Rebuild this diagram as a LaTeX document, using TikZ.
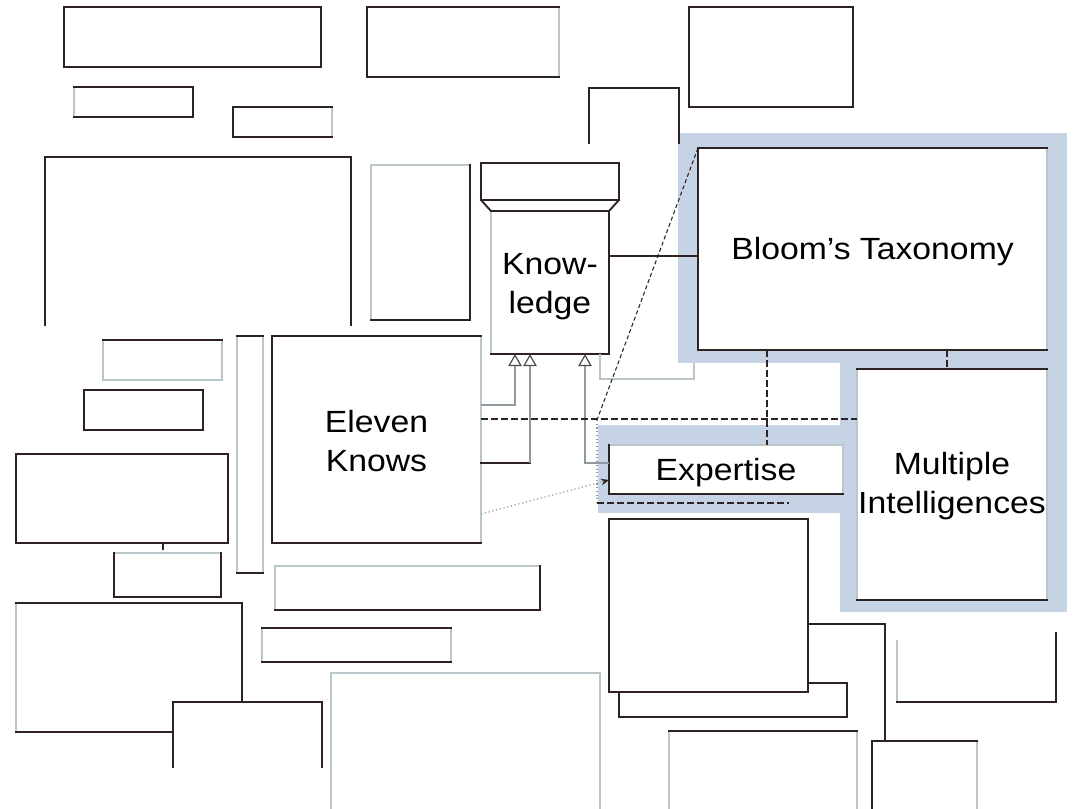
\documentclass[tikz,border=0pt]{standalone}
\usepackage{fontspec}
\newfontfamily\lblfont[FakeStretch=1.1]{Liberation Sans}
\usetikzlibrary{fit,arrows.meta}
\definecolor{dk}{HTML}{2E2222}
\definecolor{lt}{HTML}{B9C7CB}
\definecolor{bandblue}{HTML}{C5D3E5}
\definecolor{conn}{HTML}{8E9A9E}
\tikzset{
  bx/.style={inner sep=0pt, outer sep=0pt, fill=white},
  bxn/.style={inner sep=0pt, outer sep=0pt},
  dk/.style={draw=dk, line width=1.4pt, line cap=rect},
  lt/.style={draw=lt, line width=1.1pt},
  lbl/.style={font=\lblfont\fontsize{23}{29}\selectfont, align=center, text=black, inner sep=0pt},
  dsh/.style={draw=dk, line width=1.1pt, dash pattern=on 5pt off 2.5pt},
  dgl/.style={draw=dk, line width=0.8pt, dash pattern=on 3pt off 2pt},
  gen/.style={draw=conn, line width=0.9pt, -{Triangle[open, length=9pt, width=10pt, color=black!70]}},
  dotc/.style={draw=conn, line width=0.9pt, dotted, -{Stealth[length=6pt, width=5pt, color=dk]}},
}
\begin{document}
\begin{tikzpicture}[x=0.75pt,y=-0.75pt]
\useasboundingbox[fill=white] (0,0) rectangle (1077,809);

% blue band
\fill[bandblue] (678,133) rectangle (1067,363);
\fill[bandblue] (840,363) rectangle (1067,612);
\fill[bandblue] (598,425) rectangle (840,513);

% A
\node[bx, fit={(64,7) (321,67)}] (A) {};
\draw[dk] (A.north west) rectangle (A.south east);
% B
\node[bx, fit={(74,87) (193,117)}] (B) {};
\draw[lt] (B.north west) -- (B.south west);
\draw[dk] (B.north west) -- (B.north east) -- (B.south east) -- (B.south west);
% C
\node[bx, fit={(233,107) (332,137)}] (C) {};
\draw[lt] (C.north east) -- (C.south east);
\draw[dk] (C.north east) -- (C.north west) -- (C.south west) -- (C.south east);
% D
\node[bx, fit={(45,157) (351,325)}] (D) {};
\draw[dk] (D.south west) -- (D.north west) -- (D.north east) -- (D.south east);
% E
\node[bx, fit={(367,7) (559,77)}] (E) {};
\draw[lt] (E.north east) -- (E.south east);
\draw[dk] (E.north east) -- (E.north west) -- (E.south west) -- (E.south east);
% F
\node[bxn, fit={(589,88) (679,143)}] (F) {};
\draw[dk] (F.south west) -- (F.north west) -- (F.north east) -- (F.south east);
% G
\node[bx, fit={(689,7) (853,107)}] (G) {};
\draw[dk] (G.north west) rectangle (G.south east);
% H
\node[bx, fit={(371,165) (470,320)}] (H) {};
\draw[lt] (H.south west) -- (H.north west) -- (H.north east);
\draw[dk] (H.north east) -- (H.south east) -- (H.south west);

% Knowledge group
\node[bx, fit={(481,163) (619,200)}] (kntop) {};
\draw[dk] (kntop.north west) rectangle (kntop.south east);
\node[bx, fit={(491,211) (609,354)}] (kn) {};
\node[lbl, yshift=-3] (knt) at (kn.center) {Know-\\ledge};
\draw[dk] (kntop.south west) -- (kn.north west);
\draw[dk] (kntop.south east) -- (kn.north east);
\draw[lt] (kn.north west) -- (kn.south west);
\draw[dk] (kn.south west) -- (kn.south east) -- (kn.north east) -- (kn.north west);

% Bloom
\node[bx, fit={(698,148) (1047,350)}] (bloom) {};
\node[lbl, yshift=-2] (bloomt) at (bloom.center) {Bloom’s Taxonomy};
\draw[lt] (bloom.north east) -- (bloom.south east);
\draw[dk] (bloom.north east) -- (bloom.north west) -- (bloom.south west) -- (bloom.south east);
% MI
\node[bx, fit={(857,369) (1047,600)}] (mi) {};
\node[lbl, yshift=-1] (mit) at (mi.center) {Multiple\\Intelligences};
\draw[lt] (mi.north west) -- (mi.south west);
\draw[lt] (mi.north east) -- (mi.south east);
\draw[dk] (mi.north west) -- (mi.north east);
\draw[dk] (mi.south west) -- (mi.south east);
% Expertise
\node[bx, fit={(609,445) (843,494)}] (exp) {};
\node[lbl, yshift=-2] (expt) at (exp.center) {Expertise};
\draw[lt] (exp.north west) -- (exp.north east) -- (exp.south east);
\draw[dk] (exp.north west) -- (exp.south west) -- (exp.south east);

% Eleven Knows
\node[bx, fit={(272,336) (481,543)}] (ek) {};
\node[lbl, yshift=-1] (ekt) at (ek.center) {Eleven\\Knows};
\draw[lt] (ek.north east) -- (ek.south east);
\draw[dk] (ek.north east) -- (ek.north west) -- (ek.south west) -- (ek.south east);
% thin tall box
\node[bx, fit={(237,336) (263,573)}] (thin) {};
\draw[lt] (thin.north west) -- (thin.south west);
\draw[lt] (thin.north east) -- (thin.south east);
\draw[dk] (thin.north west) -- (thin.north east);
\draw[dk] (thin.south west) -- (thin.south east);
% I
\node[bx, fit={(103,340) (222,380)}] (I) {};
\draw[lt] (I.north west) -- (I.south west) -- (I.south east) -- (I.north east);
\draw[dk] (I.north west) -- (I.north east);
% J
\node[bx, fit={(84,390) (203,430)}] (J) {};
\draw[dk] (J.north west) rectangle (J.south east);
% K
\node[bx, fit={(16,454) (228,543)}] (K) {};
\draw[dk] (K.north west) rectangle (K.south east);
\draw[dk, line width=0.8pt] (K.south west) ++(147,0) -- ++(0,6);
% L
\node[bx, fit={(114,553) (221,597)}] (L) {};
\draw[lt] (L.north west) -- (L.north east);
\draw[dk] (L.north west) -- (L.south west) -- (L.south east) -- (L.north east);
% M
\node[bx, fit={(16,603) (242,732)}] (M) {};
\draw[lt] (M.north west) -- (M.south west);
\draw[dk] (M.north west) -- (M.north east) -- (M.south east) -- (M.south west);
% N
\node[bx, fit={(173,702) (322,767)}] (N) {};
\draw[dk] (N.south west) -- (N.north west) -- (N.north east) -- (N.south east);
% O
\node[bx, fit={(275,566) (540,610)}] (O) {};
\draw[lt] (O.south west) -- (O.north west) -- (O.north east);
\draw[dk] (O.north east) -- (O.south east) -- (O.south west);
% P
\node[bx, fit={(262,628) (451,662)}] (P) {};
\draw[lt] (P.north west) -- (P.south west);
\draw[lt] (P.north east) -- (P.south east);
\draw[dk] (P.north west) -- (P.north east);
\draw[dk] (P.south west) -- (P.south east);
% Q
\node[bxn, fit={(331,673) (600,809)}] (Q) {};
\draw[lt] (Q.south west) -- (Q.north west) -- (Q.north east) -- (Q.south east);
% S then R
\node[bx, fit={(619,683) (847,717)}] (S) {};
\draw[dk] (S.north west) rectangle (S.south east);
\node[bx, fit={(609,519) (808,692)}] (R) {};
\draw[dk] (R.north west) rectangle (R.south east);
% U
\node[bxn, fit={(669,731) (857,809)}] (U) {};
\draw[lt] (U.north west) -- (U.south west);
\draw[lt] (U.north east) -- (U.south east);
\draw[dk] (U.north west) -- (U.north east);
% V
\node[bxn, fit={(872,741) (977,809)}] (V) {};
\draw[lt] (V.north east) -- (V.south east);
\draw[dk] (V.south west) -- (V.north west) -- (V.north east);
% T bracket from R to V
\coordinate (tb) at (885,624);
\draw[dk] (R.east |- tb) -- (tb) -- (tb |- V.north);
% W
\node[bxn, fit={(897,633) (1056,702)}] (W) {};
\draw[lt] (W.south west) -- ++(0,-62);
\draw[dk] (W.south west) -- (W.south east) -- (W.north east);

% connectors
\coordinate (kb) at (650,256);
\draw[dk, line width=1pt] (kb -| kn.east) -- (kb -| bloom.west);

\coordinate (lc1) at (600,379);
\coordinate (lc2) at (694,379);
\coordinate (bandb) at (694,363);
\draw[lt] (lc1 |- kn.south) -- (lc1) -- (lc2) -- (bandb);

\coordinate (g1) at (515,405);
\draw[gen] (ek.east |- g1) -- (g1) -- (g1 |- kn.south);
\coordinate (g2) at (530,463);
\draw[dk, line width=1pt] (ek.east |- g2) -- (g2);
\draw[gen] (g2) -- (g2 |- kn.south);
\coordinate (g3) at (585,463);
\draw[gen] (exp.west |- g3) -- (g3) -- (g3 |- kn.south);

\coordinate (d1) at (481,514);
\coordinate (d2) at (609,480);
\draw[dotc] (ek.east |- d1) -- (exp.west |- d2);

\coordinate (dg) at (597,420);
\coordinate (dg2) at (597,503);
\coordinate (dg3) at (789,503);
\draw[dgl] (bloom.north west) -- (dg);
\draw[conn, line width=0.8pt, dotted] (dg) -- (dg2);
\draw[dsh] (dg2) -- (dg3);

\coordinate (hd) at (700,419);
\draw[dsh] (ek.east |- hd) -- (mi.west |- hd);
\coordinate (vd) at (767,400);
\draw[dsh] (bloom.south -| vd) -- (exp.north -| vd);
\coordinate (sd) at (947,360);
\draw[dsh] (bloom.south -| sd) -- (mi.north -| sd);
\end{tikzpicture}
\end{document}
